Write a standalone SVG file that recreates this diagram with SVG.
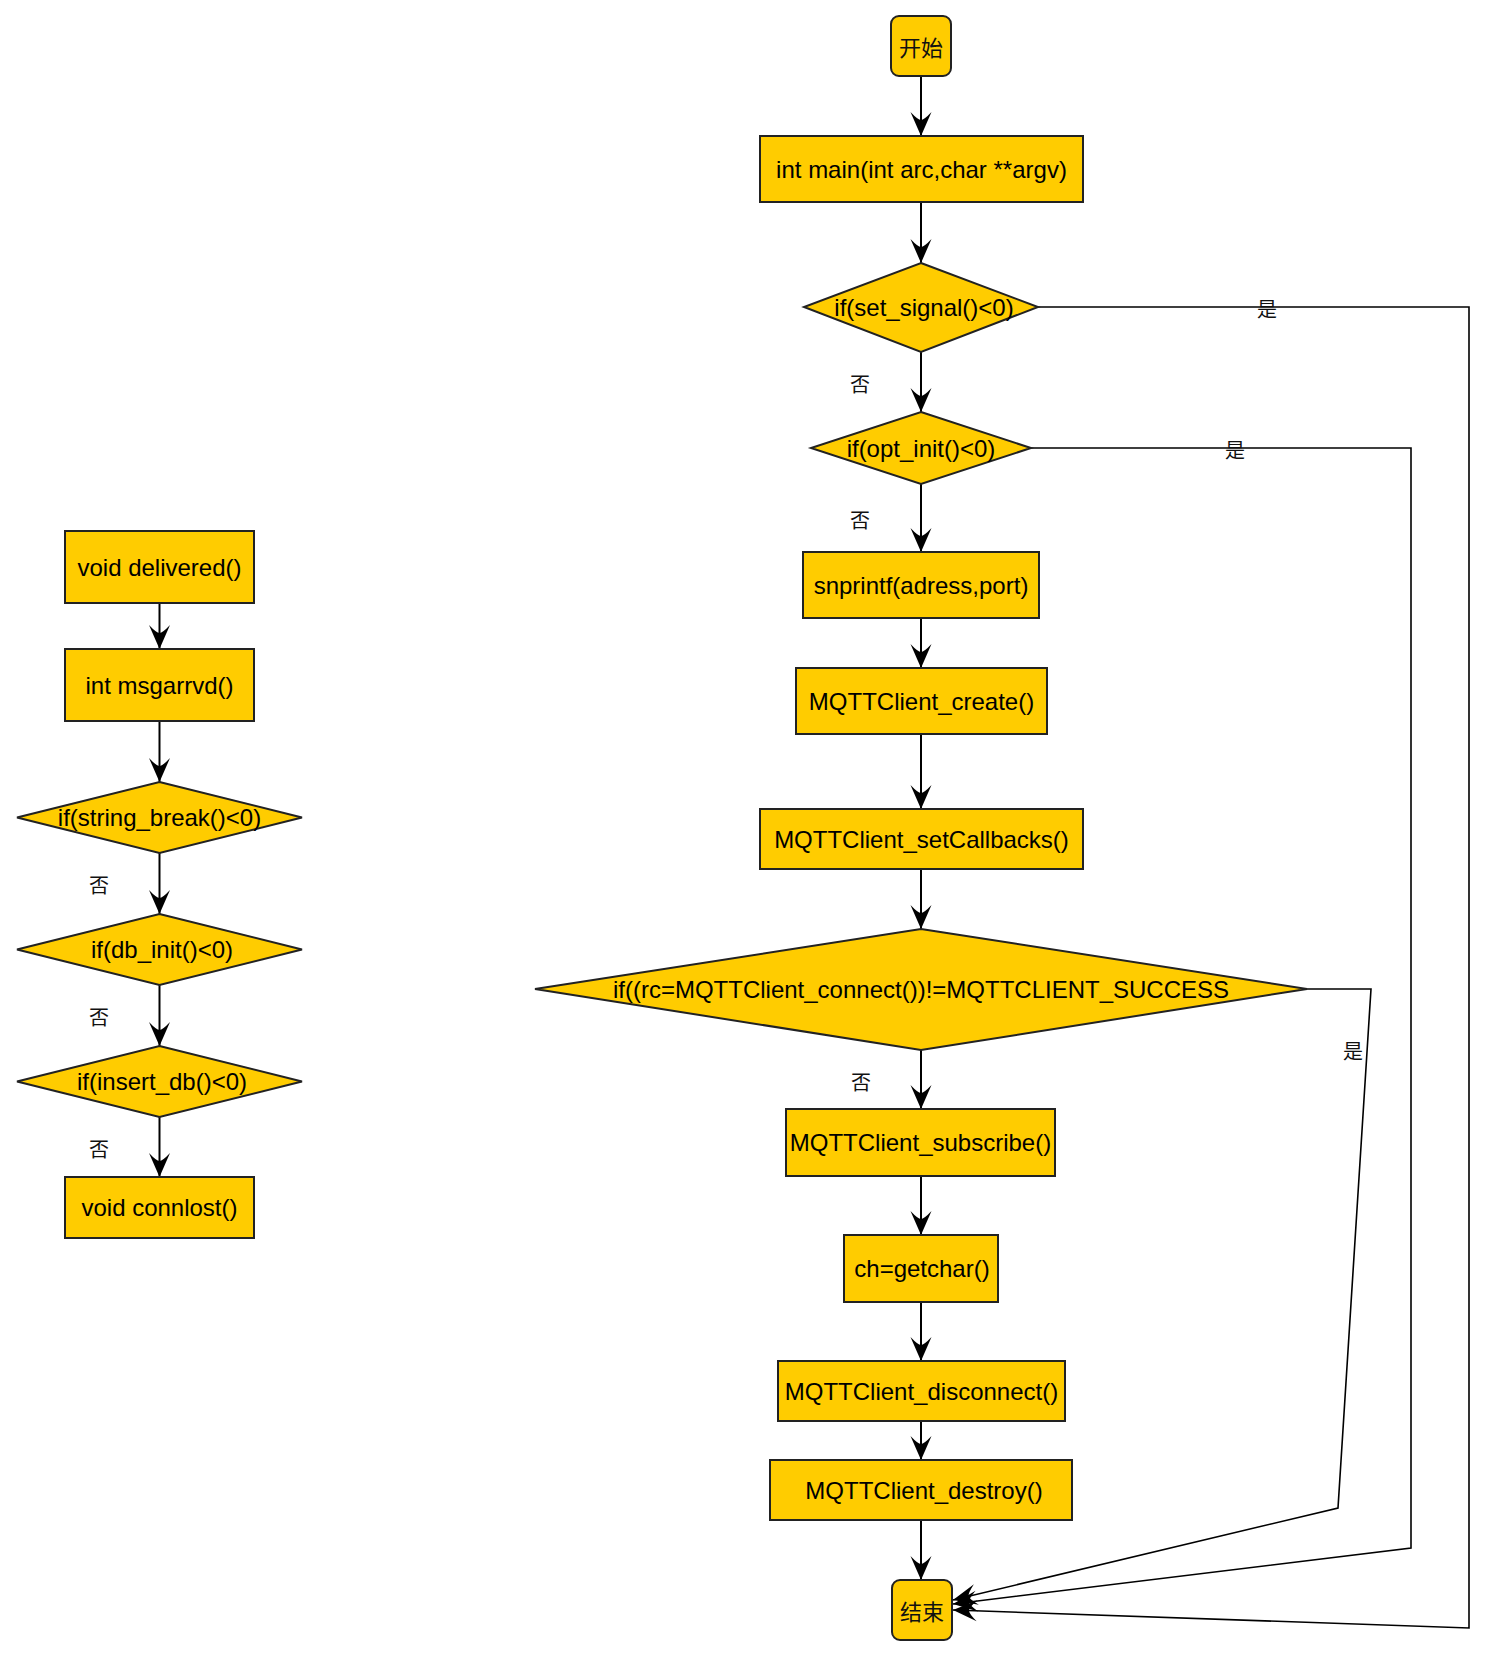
<svg xmlns="http://www.w3.org/2000/svg" width="1486" height="1658" viewBox="0 0 1486 1658">
<style>
.box{fill:#FFCC00;stroke:#222;stroke-width:2}
.t{font-family:"Liberation Sans",Arial,sans-serif;font-size:24px;fill:#000;text-anchor:middle;dominant-baseline:central}
.c{font-family:"Noto Sans CJK SC",sans-serif;font-size:22px;fill:#111;text-anchor:middle;dominant-baseline:central}
.lbl{font-family:"Noto Sans CJK SC",sans-serif;font-size:20px;fill:#111;text-anchor:middle;dominant-baseline:central}
.e{fill:none;stroke:#000;stroke-width:2;marker-end:url(#ah)}
.y{fill:none;stroke:#000;stroke-width:1.6;marker-end:url(#ah)}
</style>
<defs>
<marker id="ah" markerUnits="userSpaceOnUse" viewBox="-25 -12 26 24" refX="0" refY="0" markerWidth="26" markerHeight="24" orient="auto">
<path d="M0,0 L-24,-10.5 Q-16,-3 -16,0 Q-16,3 -24,10.5 Z" fill="#000"/>
</marker>
</defs>
<rect width="1486" height="1658" fill="#fff"/>
<g id="connectors">
<path class="e" d="M921,76 V136"/>
<path class="e" d="M921,202 V263"/>
<path class="e" d="M921,352 V412"/>
<path class="e" d="M921,484 V552"/>
<path class="e" d="M921,618 V668"/>
<path class="e" d="M921,734 V809"/>
<path class="e" d="M921,869 V929"/>
<path class="e" d="M921,1050 V1109"/>
<path class="e" d="M921,1176 V1235"/>
<path class="e" d="M921,1302 V1361"/>
<path class="e" d="M921,1421 V1460"/>
<path class="e" d="M921,1520 V1580"/>
<path class="y" d="M1038,307 H1469 V1628 L953,1610"/>
<path class="y" d="M1031,448 H1411 V1548 L953,1604"/>
<path class="y" d="M1307,989 H1371 L1338,1508 L953,1600"/>
<path class="e" d="M159.5,603 V649"/>
<path class="e" d="M159.5,721 V782"/>
<path class="e" d="M159.5,853 V914"/>
<path class="e" d="M159.5,985 V1046"/>
<path class="e" d="M159.5,1117 V1177"/>
<text class="lbl" x="860" y="383">否</text>
<text class="lbl" x="860" y="519">否</text>
<text class="lbl" x="861" y="1081">否</text>
<text class="lbl" x="1267" y="308">是</text>
<text class="lbl" x="1235" y="449">是</text>
<text class="lbl" x="1353" y="1050">是</text>
<text class="lbl" x="99" y="884">否</text>
<text class="lbl" x="99" y="1016">否</text>
<text class="lbl" x="99" y="1148">否</text>
</g>
<g id="start"><rect class="box" x="891" y="16" width="60" height="60" rx="8"/><text class="c" x="921" y="46">开始</text></g>
<g id="main"><rect class="box" x="760" y="136" width="323" height="66"/><text class="t" x="921.5" y="169">int main(int arc,char **argv)</text></g>
<g id="set_signal"><polygon class="box" points="921,263 1038,307 921,352 804,307"/><text class="t" x="924" y="307">if(set_signal()&lt;0)</text></g>
<g id="opt_init"><polygon class="box" points="921,412 1031,448 921,484 811,448"/><text class="t" x="921" y="448">if(opt_init()&lt;0)</text></g>
<g id="snprintf"><rect class="box" x="803" y="552" width="236" height="66"/><text class="t" x="921" y="585">snprintf(adress,port)</text></g>
<g id="create"><rect class="box" x="796" y="668" width="251" height="66"/><text class="t" x="921.5" y="701">MQTTClient_create()</text></g>
<g id="setCallbacks"><rect class="box" x="760" y="809" width="323" height="60"/><text class="t" x="921.5" y="839">MQTTClient_setCallbacks()</text></g>
<g id="connect"><polygon class="box" points="921,929 1307,989 921,1050 535,989"/><text class="t" x="921" y="989">if((rc=MQTTClient_connect())!=MQTTCLIENT_SUCCESS</text></g>
<g id="subscribe"><rect class="box" x="786" y="1109" width="269" height="67"/><text class="t" x="920.5" y="1142">MQTTClient_subscribe()</text></g>
<g id="getchar"><rect class="box" x="844" y="1235" width="154" height="67"/><text class="t" x="922" y="1268">ch=getchar()</text></g>
<g id="disconnect"><rect class="box" x="778" y="1361" width="287" height="60"/><text class="t" x="921.5" y="1391">MQTTClient_disconnect()</text></g>
<g id="destroy"><rect class="box" x="770" y="1460" width="302" height="60"/><text class="t" x="924" y="1490">MQTTClient_destroy()</text></g>
<g id="end"><rect class="box" x="892" y="1580" width="60" height="60" rx="8"/><text class="c" x="922" y="1610">结束</text></g>
<g id="delivered"><rect class="box" x="65" y="531" width="189" height="72"/><text class="t" x="159.5" y="567">void delivered()</text></g>
<g id="msgarrvd"><rect class="box" x="65" y="649" width="189" height="72"/><text class="t" x="159.5" y="685">int msgarrvd()</text></g>
<g id="string_break"><polygon class="box" points="159.5,782 302,817.5 159.5,853 17,817.5"/><text class="t" x="159.5" y="817.5">if(string_break()&lt;0)</text></g>
<g id="db_init"><polygon class="box" points="159.5,914 302,949.5 159.5,985 17,949.5"/><text class="t" x="162" y="949.5">if(db_init()&lt;0)</text></g>
<g id="insert_db"><polygon class="box" points="159.5,1046 302,1081.5 159.5,1117 17,1081.5"/><text class="t" x="162" y="1081.5">if(insert_db()&lt;0)</text></g>
<g id="connlost"><rect class="box" x="65" y="1177" width="189" height="61"/><text class="t" x="159.5" y="1207.5">void connlost()</text></g>
</svg>
